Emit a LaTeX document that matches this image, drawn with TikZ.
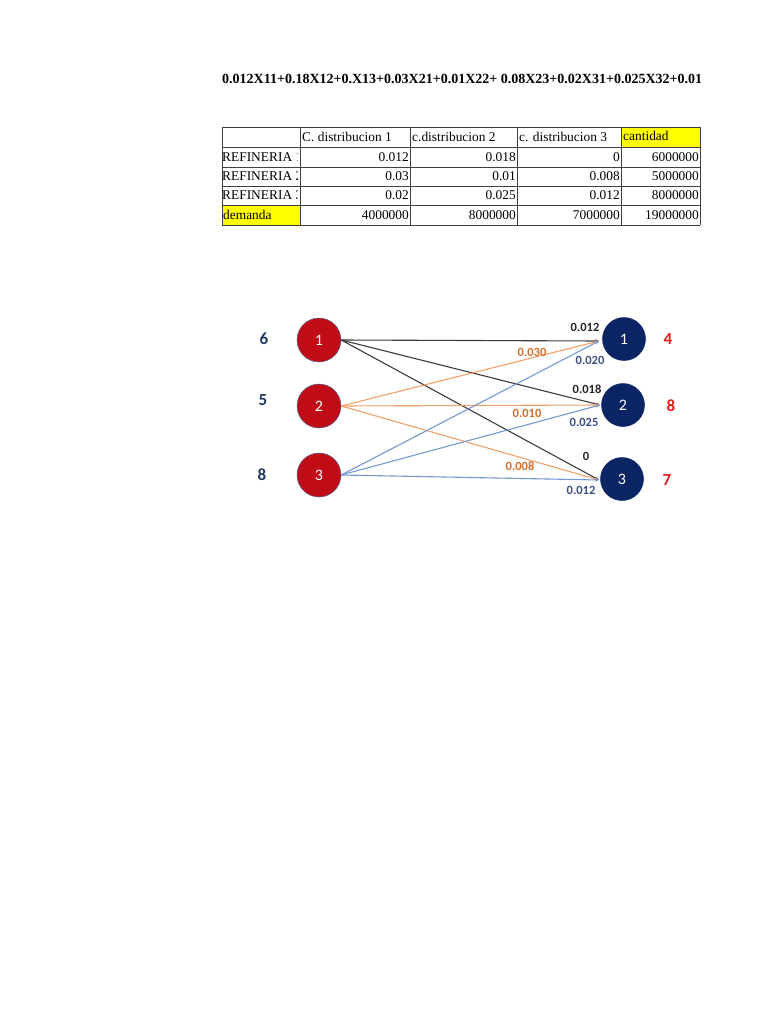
\documentclass[tikz,border=0pt]{standalone}
\usepackage{fontspec}
\setmainfont{Liberation Serif}
\newfontfamily\calibri{Carlito}
\usetikzlibrary{arrows.meta}
\definecolor{redfill}{RGB}{192,12,22}
\definecolor{navyfill}{RGB}{10,36,100}
\definecolor{edgegray}{RGB}{60,60,60}
\definecolor{edgeorange}{RGB}{244,160,105}
\definecolor{edgeblue}{RGB}{115,152,210}
\definecolor{lblorange}{RGB}{212,110,45}
\definecolor{lblblue}{RGB}{60,80,130}
\definecolor{sidenavy}{RGB}{31,56,100}
\definecolor{sidered}{RGB}{224,30,30}
\definecolor{cellyellow}{RGB}{255,255,0}
\tikzset{
  px/.style={x=1pt,y=-1pt},
  title/.style={anchor=west,inner sep=0pt,font=\fontsize{14}{15}\selectfont\bfseries},
  cellL/.style={anchor=west,inner sep=0pt,font=\fontsize{13.4}{14}\selectfont},
  cellR/.style={anchor=east,inner sep=0pt,font=\fontsize{13.4}{14}\selectfont},
  grid/.style={draw=black!75,line width=0.8pt},
  srcnode/.style={circle,fill=redfill,draw=navyfill!70,line width=0.5pt,minimum size=44pt,inner sep=0pt,text=white,font=\calibri\fontsize{16}{17}\selectfont},
  dstnode/.style={circle,fill=navyfill,draw=navyfill,line width=0.5pt,minimum size=43pt,inner sep=0pt,text=white,font=\calibri\fontsize{16}{17}\selectfont},
  sidenum/.style={inner sep=0pt,font=\calibri\bfseries\fontsize{17}{18}\selectfont},
  edgelbl/.style={inner sep=0pt,font=\calibri\bfseries\fontsize{12.5}{13}\selectfont},
  edge/.style={line width=1.1pt,-{Stealth[length=4pt,width=3.5pt]}},
}
\begin{document}
\begin{tikzpicture}[px]
\useasboundingbox (0,0) rectangle (768,1024);
% title
\begin{scope}
\clip (222,60) rectangle (700.5,100);
\node[title] (title) at (222,79) {0.012X11+0.18X12+0.X13+0.03X21+0.01X22+ 0.08X23+0.02X31+0.025X32+0.012X33};
\end{scope}
% table
\fill[cellyellow] (222,205) rectangle (300,225);
\fill[cellyellow] (621,127) rectangle (700,147);
\foreach \yy in {127,147,167,186,205,225} \draw[grid] (222,\yy) -- (700,\yy);
\foreach \xx in {222,300,410,517,621,700} \draw[grid] (\xx,127) -- (\xx,225);
\node[cellL] (h1) at (302,137) {C. distribucion 1};
\node[cellL] (h2) at (412,137) {c.distribucion 2};
\node[cellL] (h3) at (519,137) {c. distribucion 3};
\node[cellL] (h4) at (623,136) {cantidad};
\begin{scope}
\clip (222,147) rectangle (297,205);
\node[cellL] (r1l) at (222,157) {REFINERIA 1};
\node[cellL] (r2l) at (222,176.5) {REFINERIA 2};
\node[cellL] (r3l) at (222,195.5) {REFINERIA 3};
\end{scope}
\node[cellL] (dl) at (223,215) {demanda};
\node[cellR] (c11) at (409,157) {0.012};
\node[cellR] (c12) at (516,157) {0.018};
\node[cellR] (c13) at (620,157) {0};
\node[cellR] (c14) at (699,157) {6000000};
\node[cellR] (c21) at (409,176.5) {0.03};
\node[cellR] (c22) at (516,176.5) {0.01};
\node[cellR] (c23) at (620,176.5) {0.008};
\node[cellR] (c24) at (699,176.5) {5000000};
\node[cellR] (c31) at (409,195.5) {0.02};
\node[cellR] (c32) at (516,195.5) {0.025};
\node[cellR] (c33) at (620,195.5) {0.012};
\node[cellR] (c34) at (699,195.5) {8000000};
\node[cellR] (c41) at (409,215) {4000000};
\node[cellR] (c42) at (516,215) {8000000};
\node[cellR] (c43) at (620,215) {7000000};
\node[cellR] (c44) at (699,215) {19000000};
% network
\node[srcnode] (r1) at (319,340) {1};
\node[srcnode] (r2) at (319,406) {2};
\node[srcnode] (r3) at (319,475) {3};
\node[dstnode] (b1) at (624,339) {1};
\node[dstnode] (b2) at (623,405) {2};
\node[dstnode] (b3) at (622,479) {3};
\coordinate (t1) at (599,341);
\coordinate (t2) at (600,405);
\coordinate (t3) at (599,480);
\draw[edge,draw=edgegray] (r1.east) -- (t1);
\draw[edge,draw=edgegray] (r1.east) -- (t2);
\draw[edge,draw=edgegray] (r1.east) -- (t3);
\draw[edge,draw=edgeorange] (r2.east) -- (t1);
\draw[edge,draw=edgeorange] (r2.east) -- (t2);
\draw[edge,draw=edgeorange] (r2.east) -- (t3);
\draw[edge,draw=edgeblue] (r3.east) -- (t1);
\draw[edge,draw=edgeblue] (r3.east) -- (t2);
\draw[edge,draw=edgeblue] (r3.east) -- (t3);
\node[edgelbl,text=black!85] (l11) at (585,327) {0.012};
\node[edgelbl,text=lblorange] (l21) at (532,352) {0.030};
\node[edgelbl,text=lblblue] (l31) at (590,360) {0.020};
\node[edgelbl,text=black!85] (l12) at (587,389) {0.018};
\node[edgelbl,text=lblorange] (l22) at (527,413) {0.010};
\node[edgelbl,text=lblblue] (l32) at (584,422) {0.025};
\node[edgelbl,text=black!85] (l13) at (586,456) {0};
\node[edgelbl,text=lblorange] (l23) at (520,466) {0.008};
\node[edgelbl,text=lblblue] (l33) at (581,490) {0.012};
\node[sidenum,text=sidenavy] (s1) at (264,339) {6};
\node[sidenum,text=sidenavy] (s2) at (263,400) {5};
\node[sidenum,text=sidenavy] (s3) at (262,475) {8};
\node[sidenum,text=sidered] (d1) at (668,339) {4};
\node[sidenum,text=sidered] (d2) at (671,406) {8};
\node[sidenum,text=sidered] (d3) at (667,480) {7};
\end{tikzpicture}
\end{document}
